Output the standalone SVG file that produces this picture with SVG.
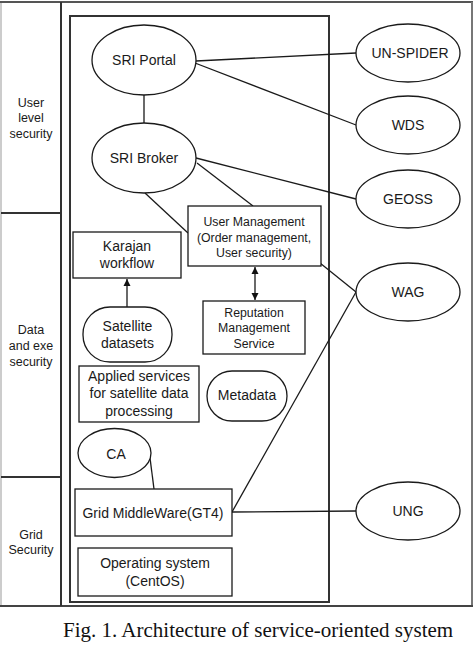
<svg xmlns="http://www.w3.org/2000/svg" width="474" height="647" viewBox="0 0 474 647">
<defs>
<style>
.ln{fill:none;stroke:#1a1a1a;stroke-width:1.3}
.nd{fill:#fff;stroke:#1a1a1a;stroke-width:1.3}
.fr{fill:none;stroke:#333;stroke-width:2}
text{font-family:"Liberation Sans",Arial,sans-serif;fill:#1a1a1a;text-anchor:middle}
.t14{font-size:14px}
.t13{font-size:12.5px}
.t12{font-size:12.3px}
.cap{font-family:"Liberation Serif","Times New Roman",serif;font-size:21px;fill:#111;text-anchor:start}
</style>
<marker id="ah" viewBox="0 0 10 10" refX="10" refY="5" markerWidth="7" markerHeight="8" orient="auto-start-reverse" markerUnits="userSpaceOnUse">
<path d="M0,0 L10,5 L0,10 z" fill="#111"/>
</marker>
</defs>
<rect width="474" height="647" fill="#fff"/>
<g id="frame">
<line x1="1" y1="2" x2="1" y2="606" stroke="#ccc" stroke-width="2"/>
<line x1="0" y1="2" x2="473" y2="2" stroke="#555" stroke-width="2"/>
<line x1="472" y1="2" x2="472" y2="606" stroke="#777" stroke-width="2"/>
<line x1="0" y1="606" x2="473" y2="606" stroke="#444" stroke-width="2"/>
<line class="fr" x1="61" y1="2" x2="61" y2="606"/>
<line class="fr" x1="1" y1="213" x2="61" y2="213"/>
<line class="fr" x1="1" y1="477" x2="61" y2="477"/>
<rect class="fr" x="70" y="16" width="259" height="586"/>
</g>
<g id="layer-labels" class="t13">
<text x="31" y="106.5">User</text>
<text x="31" y="122">level</text>
<text x="31" y="137.5">security</text>
<text x="31" y="333.5">Data</text>
<text x="31" y="349.5">and exe</text>
<text x="31" y="365.5">security</text>
<text x="31" y="538.5">Grid</text>
<text x="31" y="553.5">Security</text>
</g>
<g id="connectors">
<line class="ln" x1="144" y1="95" x2="144" y2="123"/>
<line class="ln" x1="196" y1="61" x2="356" y2="53"/>
<line class="ln" x1="195" y1="63" x2="356" y2="125"/>
<line class="ln" x1="196" y1="158" x2="356" y2="199"/>
<line class="ln" x1="197" y1="163" x2="253" y2="206"/>
<line class="ln" x1="145" y1="193" x2="188" y2="233"/>
<line class="ln" x1="320" y1="263" x2="356" y2="292"/>
<line class="ln" x1="356" y1="292" x2="232" y2="512"/>
<line class="ln" x1="232" y1="512" x2="356" y2="511"/>
<line class="ln" x1="150" y1="458" x2="154" y2="489"/>
<line class="ln" x1="127" y1="307" x2="127" y2="279" marker-end="url(#ah)"/>
<line class="ln" x1="255" y1="267" x2="255" y2="300" marker-start="url(#ah)" marker-end="url(#ah)" stroke="#666"/>
</g>
<g id="sri-portal"><ellipse class="nd" cx="144" cy="60" rx="52" ry="35"/><text class="t14" x="144" y="65">SRI Portal</text></g>
<g id="sri-broker"><ellipse class="nd" cx="144" cy="158" rx="52" ry="35"/><text class="t14" x="144" y="163">SRI Broker</text></g>
<g id="un-spider"><ellipse class="nd" cx="408" cy="53" rx="52" ry="29"/><text class="t14" x="410" y="58">UN-SPIDER</text></g>
<g id="wds"><ellipse class="nd" cx="408" cy="125" rx="52" ry="29"/><text class="t14" x="408" y="130">WDS</text></g>
<g id="geoss"><ellipse class="nd" cx="408" cy="199" rx="52" ry="29"/><text class="t14" x="408" y="204">GEOSS</text></g>
<g id="wag"><ellipse class="nd" cx="408" cy="292" rx="52" ry="29"/><text class="t14" x="408" y="297">WAG</text></g>
<g id="ung"><ellipse class="nd" cx="408" cy="511" rx="52" ry="29"/><text class="t14" x="408" y="516">UNG</text></g>
<g id="user-management"><rect class="nd" x="188" y="206" width="133" height="60"/>
<text class="t12" x="254" y="225.5">User Management</text>
<text class="t12" x="254" y="241.5">(Order management,</text>
<text class="t12" x="254" y="256.5">User security)</text></g>
<g id="reputation"><rect class="nd" x="203" y="301" width="102" height="53"/>
<text class="t12" x="254" y="317">Reputation</text>
<text class="t12" x="254" y="332">Management</text>
<text class="t12" x="254" y="348">Service</text></g>
<g id="karajan"><rect class="nd" x="73" y="232" width="108" height="46"/>
<text class="t14" x="127" y="251">Karajan</text>
<text class="t14" x="127" y="268">workflow</text></g>
<g id="satellite"><rect class="nd" x="83" y="307" width="89" height="55" rx="27" ry="27"/>
<text class="t14" x="127.5" y="331">Satellite</text>
<text class="t14" x="127.5" y="348">datasets</text></g>
<g id="applied"><rect class="nd" x="79" y="366" width="120" height="56"/>
<text class="t14" x="139" y="381">Applied services</text>
<text class="t14" x="139" y="398">for satellite data</text>
<text class="t14" x="139" y="416">processing</text></g>
<g id="metadata"><rect class="nd" x="207" y="371" width="80" height="50" rx="25" ry="25"/>
<text class="t14" x="247" y="400">Metadata</text></g>
<g id="ca"><ellipse class="nd" cx="114.5" cy="453" rx="36.5" ry="24.5"/>
<text class="t14" x="116" y="459">CA</text></g>
<g id="grid-middleware"><rect class="nd" x="75" y="489" width="157" height="47"/>
<text class="t14" x="153" y="518">Grid MiddleWare(GT4)</text></g>
<g id="os"><rect class="nd" x="78" y="548" width="154" height="48"/>
<text class="t14" x="155" y="568">Operating system</text>
<text class="t14" x="155" y="586">(CentOS)</text></g>
<text class="cap" x="63" y="637">Fig. 1. Architecture of service-oriented system</text>
</svg>
